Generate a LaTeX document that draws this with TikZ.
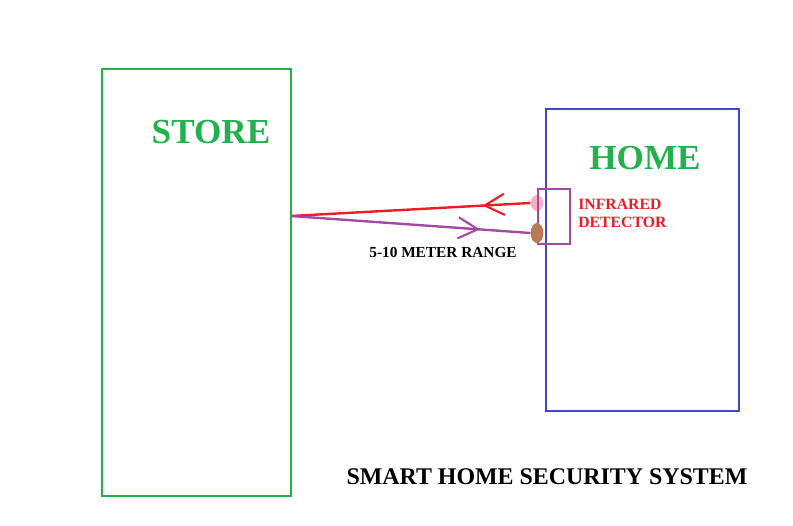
\documentclass[tikz,border=0pt]{standalone}
\usepackage{fontspec}
\setmainfont{Liberation Serif}
\usetikzlibrary{arrows.meta,decorations.markings,shapes.geometric}

\definecolor{boxgreen}{RGB}{34,177,76}
\definecolor{boxblue}{RGB}{63,72,204}
\definecolor{irred}{RGB}{237,28,36}
\definecolor{irpurple}{RGB}{163,73,164}
\definecolor{irpink}{RGB}{255,174,201}
\definecolor{irbrown}{RGB}{185,122,87}

\tikzset{
  building/.style={draw, line width=1.7pt, minimum width=#1, inner sep=0pt},
  beam/.style={line width=1.7pt, postaction={decorate}},
  sensor/.style={ellipse, fill=#1, inner sep=0pt},
}

\begin{document}
\begin{tikzpicture}[x=0.025cm,y=-0.025cm,>={Straight Barb[length=14pt,width=15pt,line width=1.5pt]}]
\useasboundingbox (0,0) rectangle (793,525);

\node[building=4.725cm, boxgreen, minimum height=10.675cm] (store) at (196.5,282.5) {};
\node[building=4.825cm, boxblue, minimum height=7.55cm] (home) at (642.5,260) {};

% sender / receiver on the home wall
\node[sensor=irpink, minimum width=0.32cm, minimum height=0.4cm] (ir) at (537,203) {};
\node[building=0.8cm, irpurple, minimum height=1.375cm] (detector) at (554,216.5) {};
\node[sensor=irbrown, minimum width=0.32cm, minimum height=0.5cm] (tx) at (537,233) {};
\coordinate (src) at (291,216);

\node[text=boxgreen, font=\bfseries\fontsize{25}{30}\selectfont] (storelbl) at (211,132) {STORE};
\node[text=boxgreen, font=\bfseries\fontsize{25}{30}\selectfont] (homelbl) at (645,158) {HOME};

\draw[beam, irred, decoration={markings, mark=at position 0.2 with {\arrow{>}}}]
  (ir.west) -- (src);
\draw[beam, irpurple, decoration={markings, mark=at position 0.79 with {\arrow{>}}}]
  (src) -- (tx.west);

\node[text=irred, font=\bfseries\fontsize{11.2}{13}\selectfont, align=left, anchor=north west, inner sep=0pt] (irlbl) at (578,199) {INFRARED\\DETECTOR};
\node[font=\bfseries\fontsize{10.9}{13}\selectfont] (range) at (443,252) {5-10 METER RANGE};

\node[font=\bfseries\fontsize{17}{20}\selectfont] (title) at (547,477) {SMART HOME SECURITY SYSTEM};
\end{tikzpicture}
\end{document}
